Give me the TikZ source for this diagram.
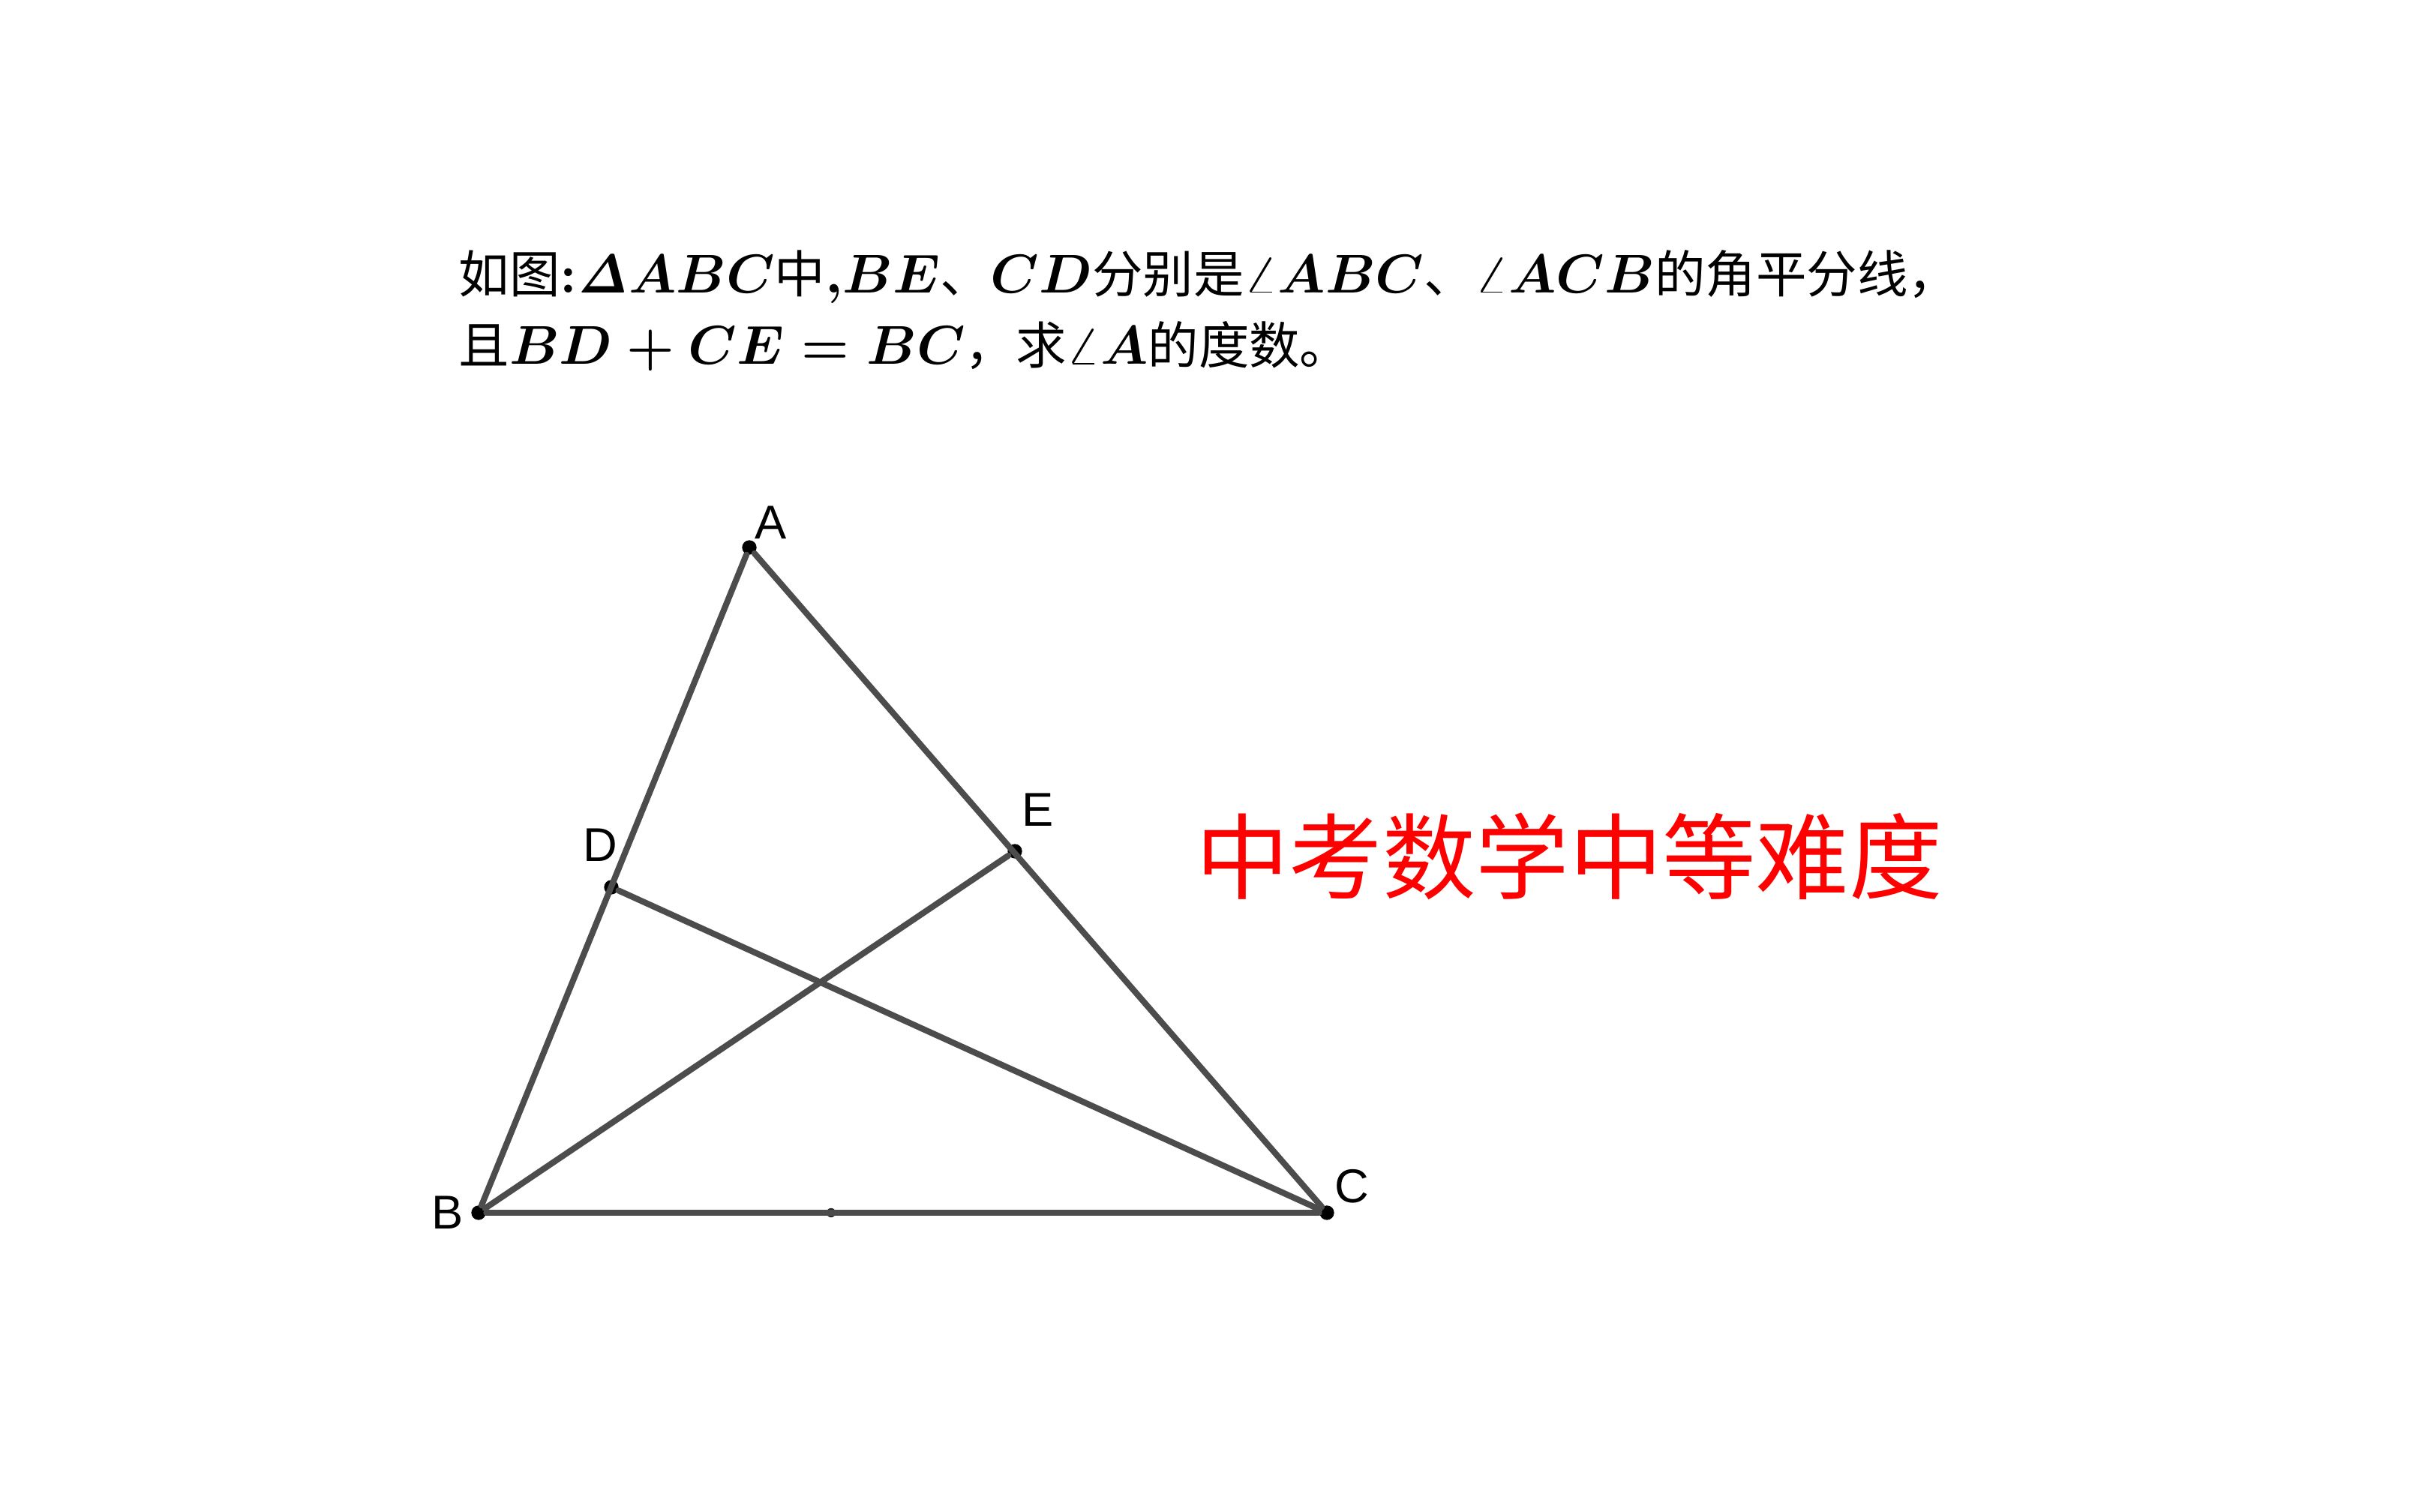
\documentclass[tikz,border=0pt]{standalone}
\usepackage[no-math]{fontspec}
\usepackage{amsmath}
\newfontfamily\cjk{Noto Sans CJK SC}
\newfontfamily\lblfont{Liberation Sans}
\colorlet{side edge}{black!70}
\tikzstyle{edge} = [draw, line width=2.3pt, side edge, line cap=round]
\tikzstyle{vertex}=[circle,fill=black,minimum size=5.5pt,inner sep=0pt]
\tikzstyle{small vertex}=[circle,fill=black!85,minimum size=3.5pt,inner sep=0pt]
\tikzstyle{ptlabel}=[font=\lblfont\fontsize{18}{20}\selectfont, inner sep=0pt]

\begin{document}
\begin{tikzpicture}
    \useasboundingbox (0,0) rectangle (32.25,20.16);

    % the question
    \node[anchor=west, inner sep=0pt, align=left, font=\cjk\fontsize{19.2}{27.2}\selectfont] (question) at (6.11,16.02)
      {如图{\boldmath$\mathord{:}\mathit{\Delta}ABC$}中{\boldmath$\mathord{,}BE$}、{\boldmath$CD$}分别是{\boldmath$\angle ABC$}、{\boldmath$\angle ACB$}的角平分线，\\
       且{\boldmath$BD+CE=BC$}，求{\boldmath$\angle A$}的度数。};

    \node[text=red, inner sep=0pt, font=\cjk\fontsize{35.4}{40}\selectfont] (level) at (20.92,8.74) {中考数学中等难度};

    \foreach \pos/\name in {{(9.99,12.86)/A}, {(6.38,3.99)/B}, {(17.69,3.99)/C}, {(8.15,8.33)/D}, {(13.53,8.81)/E}}
      \node[vertex] (\name) at \pos {};
    \node[small vertex] (M) at (11.08,3.99) {};

    \foreach \source/\sink in {A/B, A/C, B/C, B/E, C/D}
      \path[edge] (\source) -- (\sink);

    % labels of the points
    \foreach \pos/\name in {{(10.28,13.19)/A}, {(5.97,3.99)/B}, {(18.02,4.34)/C}, {(8.00,8.89)/D}, {(13.84,9.36)/E}}
      \node[ptlabel] (l\name) at \pos {\name};

\end{tikzpicture}
\end{document}
